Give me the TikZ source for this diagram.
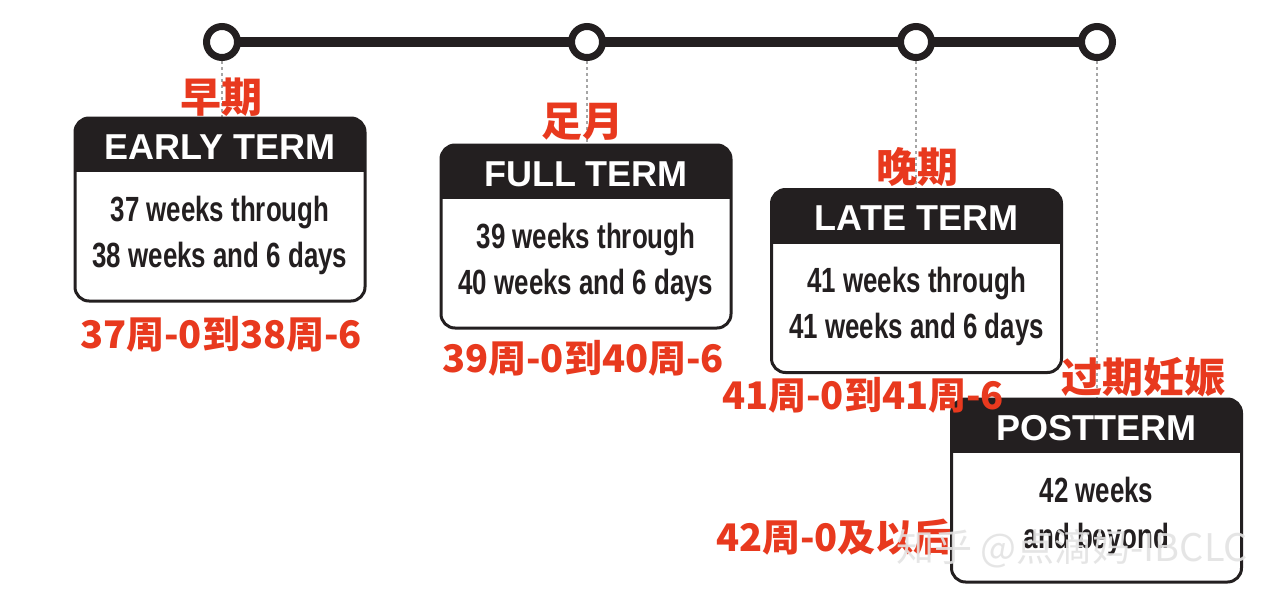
\documentclass[tikz,border=0pt]{standalone}
\usepackage{fontspec}
\setmainfont{Liberation Sans}
\newfontfamily\hdrfont{Liberation Sans}
\newfontfamily\bodyfont[FakeStretch=0.74]{Liberation Sans}
\newfontfamily\cjk{Noto Sans CJK SC}
\usetikzlibrary{calc}
\definecolor{redlbl}{HTML}{E8391E}
\definecolor{ink}{HTML}{231F20}
\pgfdeclarelayer{bg}
\pgfsetlayers{bg,main}
\tikzset{
  tbox/.style={draw=ink, line width=1.5pt, fill=white, rounded corners=7pt,
    minimum width=145pt, minimum height=91.5pt, inner sep=0pt, outer sep=0pt},
  ttitle/.style={font=\hdrfont\bfseries\fontsize{18pt}{18pt}\selectfont, text=white, inner sep=0pt},
  tbody/.style={font=\bodyfont\bfseries\fontsize{17.5pt}{23pt}\selectfont, align=center, text=ink, inner sep=0pt},
  rlbl/.style={font=\cjk\bfseries\fontsize{19pt}{19pt}\selectfont, text=redlbl, inner sep=0pt},
  tlbl/.style={font=\cjk\bfseries\fontsize{20.5pt}{20.5pt}\selectfont, text=redlbl, inner sep=0pt},
  tdot/.style={circle, draw=ink, line width=3.5pt, fill=white, minimum size=15.5pt, inner sep=0pt},
  dotline/.style={draw=gray!70, line width=0.9pt, dash pattern=on 1.5pt off 1.5pt},
  wmark/.style={font=\cjk\fontsize{19pt}{19pt}\selectfont, text=gray!22, text opacity=0.9, inner sep=0pt}
}
\newcommand\termbox[6]{%
  \node[tbox] (#1) at (#2,#3) {};
  \coordinate (#1hl) at ($(#1.north west)+(0,54)$);
  \begin{scope}
    \clip[rounded corners=7pt] (#1.south west) rectangle (#1.north east);
    \fill[ink] (#1.north west) rectangle (#1.north east |- #1hl);
  \end{scope}
  \node[ttitle] (#1t) at ($(#1.north)+(0,29)$) {#4};
  \node[tbody] (#1b) at ($(#1.north)+(0,117)$) {#5\\#6};
}
\begin{document}
\begin{tikzpicture}[x=0.5pt,y=-0.5pt]
\useasboundingbox (0,0) rectangle (1280,605);

% timeline circles
\node[tdot] (c1) at (222,42) {};
\node[tdot] (c2) at (587,42) {};
\node[tdot] (c3) at (916,42) {};
\node[tdot] (c4) at (1097,42) {};

% boxes
\termbox{early}{220}{209.5}{EARLY TERM}{37 weeks through}{38 weeks and 6 days}
\termbox{full}{586}{236.5}{FULL TERM}{39 weeks through}{40 weeks and 6 days}
\termbox{late}{916.5}{281}{LATE TERM}{41 weeks through}{41 weeks and 6 days}
\termbox{post}{1096.5}{490.5}{POSTTERM}{42 weeks}{and beyond}

\begin{pgfonlayer}{bg}
  \fill[white] (0,0) rectangle (1280,605);
  \draw[ink, line width=5pt] (c1.center) -- (c4.center);
  \draw[dotline] (c1.south) -- (c1 |- early.north);
  \draw[dotline] (c2.south) -- (c2 |- full.north);
  \draw[dotline] (c3.south) -- (c3 |- late.north);
  \draw[dotline] (c4.south) -- (c4 |- post.north);
\end{pgfonlayer}

% red labels
\node[tlbl] (l1) at (221,97) {早期};
\node[tlbl] (l2) at (582,122) {足月};
\node[tlbl] (l3) at (917,167) {晚期};
\node[tlbl] (l4) at (1143,377) {过期妊娠};

\node[rlbl] (r1) at (221,334) {37周-0到38周-6};
\node[rlbl] (r2) at (583,358) {39周-0到40周-6};
\node[rlbl] (r3) at (863,395) {41周-0到41周-6};
\node[rlbl] (r4) at (834,537) {42周-0及以后};

% watermark
\node[wmark] (wm) at (1072,549) {知乎 @点滴妈-IBCLC};
\end{tikzpicture}
\end{document}
